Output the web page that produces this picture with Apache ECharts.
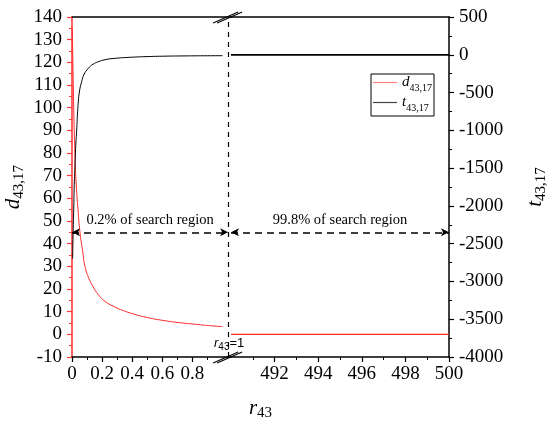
<!DOCTYPE html>
<html><head><meta charset="utf-8">
<script src="https://cdn.jsdelivr.net/npm/echarts@6/dist/echarts.min.js"></script>
<style>html,body{margin:0;padding:0;background:#fff}#c{width:550px;height:428px}</style>
</head><body><div id="c"></div>
<script>
// ---- data ----
const dLeftR = [0.002,0.01,0.02,0.03,0.04,0.053,0.07,0.086,0.11,0.14,0.175,0.22,0.286,0.34,0.397,0.5,0.618,0.72,0.839,0.92,1.0];
const dLeftV = [135,105,78,64,55,45,37,30,25,21,17.5,14.5,12,10.5,9.2,7.4,6,5.1,4.3,3.8,3.4];
const tLeftR = [0.004,0.008,0.012,0.015,0.02,0.025,0.031,0.036,0.042,0.05,0.064,0.08,0.108,0.14,0.175,0.22,0.286,0.38,0.485,0.6,0.75,0.9,1.0];
const tLeftV = [-2700,-2300,-2000,-1720,-1450,-1200,-1000,-800,-620,-480,-356,-260,-180,-125,-92,-65,-47,-34,-25,-19,-15,-13,-12];
const dRightR = [490,500];
const dRightV = [0,0];
const tRightR = [490,500];
const tRightV = [0,0];
const xTicksLeft = [0,0.2,0.4,0.6,0.8];
const xMinorLeft = [0.1,0.3,0.5,0.7,0.9];
const xTicksRight = [492,494,496,498,500];
const xMinorRight = [491,493,495,497,499];
const leftRange = [0,1.056];
const rightRange = [490,500];
const dRange = [-10,140,10];
const tRange = [-4000,500,500];
const breakR = 1.037;
const arrowD = 45;
const textLeft = '0.2% of search region';
const textRight = '99.8% of search region';

const SERIF = "'Liberation Serif','Times New Roman',serif";
const SANS = "'Liberation Sans',Arial,sans-serif";
const RED = '#ff2a2a';
const zip = (a,b)=>a.map((v,i)=>[v,b[i]]);

const subRich = (big, small) => ({
  i:{fontFamily:SERIF,fontStyle:'italic',fontSize:big,color:'#000',lineHeight:big+6,verticalAlign:'middle'},
  s:{fontFamily:SERIF,fontSize:small,color:'#000',lineHeight:small,verticalAlign:'bottom'}
});

const chart = echarts.init(document.getElementById('c'), null, {renderer:'canvas'});
const plain = v=>String(v);
const labelBase = {fontFamily:SERIF,fontSize:19,color:'#000',formatter:plain};
const blackLine = {lineStyle:{color:'#000',width:1.5}};

const option = {
  animation:false,
  backgroundColor:'#fff',
  grid:[
    {left:72, top:17, width:159, height:340},
    {left:231, top:17, width:229, height:340}
  ],
  xAxis:[
    {gridIndex:0,type:'value',position:'bottom',min:leftRange[0],max:leftRange[1],
     axisLine:{onZero:false,...blackLine},
     axisTick:{customValues:xTicksLeft,length:5,lineStyle:{color:'#000',width:1.2}},
     axisLabel:{customValues:xTicksLeft,margin:8,...labelBase},
     splitLine:{show:false}},
    {gridIndex:0,type:'value',position:'bottom',min:leftRange[0],max:leftRange[1],
     axisLine:{show:false,onZero:false},
     axisTick:{customValues:xMinorLeft,length:3,lineStyle:{color:'#000',width:1}},
     axisLabel:{show:false},splitLine:{show:false}},
    {gridIndex:0,type:'value',position:'top',min:leftRange[0],max:leftRange[1],
     axisLine:{onZero:false,...blackLine},axisTick:{show:false},axisLabel:{show:false},splitLine:{show:false}},
    {gridIndex:1,type:'value',position:'bottom',min:rightRange[0],max:rightRange[1],
     axisLine:{onZero:false,...blackLine},
     axisTick:{customValues:xTicksRight,length:5,lineStyle:{color:'#000',width:1.2}},
     axisLabel:{customValues:xTicksRight,margin:8,...labelBase},
     splitLine:{show:false}},
    {gridIndex:1,type:'value',position:'bottom',min:rightRange[0],max:rightRange[1],
     axisLine:{show:false,onZero:false},
     axisTick:{customValues:xMinorRight,length:3,lineStyle:{color:'#000',width:1}},
     axisLabel:{show:false},splitLine:{show:false}},
    {gridIndex:1,type:'value',position:'top',min:rightRange[0],max:rightRange[1],
     axisLine:{onZero:false,...blackLine},axisTick:{show:false},axisLabel:{show:false},splitLine:{show:false}}
  ],
  yAxis:[
    {gridIndex:0,type:'value',position:'left',min:dRange[0],max:dRange[1],interval:dRange[2],
     axisLine:{show:true,onZero:false,lineStyle:{color:'#ff3b3b',width:1.6}},
     axisTick:{show:true,length:5,lineStyle:{color:'#ff3b3b',width:1.2}},
     minorTick:{show:true,splitNumber:2,length:3,lineStyle:{color:'#ff3b3b',width:1}},
     axisLabel:{margin:10,...labelBase},
     splitLine:{show:false},minorSplitLine:{show:false},
     name:'{i|d}{s|43,17}',nameLocation:'middle',nameRotate:90,nameGap:45,
     nameTextStyle:{rich:subRich(21,15)}},
    {gridIndex:0,type:'value',position:'right',min:tRange[0],max:tRange[1],show:false,splitLine:{show:false}},
    {gridIndex:1,type:'value',position:'left',min:dRange[0],max:dRange[1],show:false,splitLine:{show:false}},
    {gridIndex:1,type:'value',position:'right',min:tRange[0],max:tRange[1],interval:tRange[2],
     axisLine:{show:true,onZero:false,lineStyle:{color:'#000',width:1.5}},
     axisTick:{show:true,length:5,lineStyle:{color:'#000',width:1.2}},
     minorTick:{show:true,splitNumber:2,length:3,lineStyle:{color:'#000',width:1}},
     axisLabel:{margin:10,...labelBase},
     splitLine:{show:false},minorSplitLine:{show:false},
     name:'{i|t}{s|43,17}',nameLocation:'middle',nameRotate:90,nameGap:73,
     nameTextStyle:{rich:subRich(21,15)}}
  ],
  legend:{
    left:371, top:74, orient:'vertical',
    data:['d43,17','t43,17'],
    icon:'rect', itemWidth:24, itemHeight:1.2, itemGap:2,
    borderColor:'#000', borderWidth:1, padding:[1,2,3,2],
    formatter:n=>'{i|'+n[0]+'}{s|'+n.slice(1)+'}',
    textStyle:{rich:{
      i:{fontFamily:SERIF,fontStyle:'italic',fontSize:15,color:'#000',lineHeight:21,verticalAlign:'middle'},
      s:{fontFamily:SERIF,fontSize:10,color:'#000',lineHeight:10,verticalAlign:'bottom'}
    }}
  },
  series:[
    {name:'d43,17',type:'line',xAxisIndex:0,yAxisIndex:0,data:zip(dLeftR,dLeftV),smooth:true,
     showSymbol:false,lineStyle:{color:RED,width:1},itemStyle:{color:'#ff8080'},z:3,
     markLine:{silent:true,symbol:['arrow','arrow'],symbolSize:[6,8],animation:false,
       data:[
         [{coord:[0,arrowD],lineStyle:{color:'#000',width:1.5,type:[7,5]},
           label:{show:true,position:'insideMiddleTop',distance:5,formatter:textLeft,fontFamily:SERIF,fontSize:14.5,color:'#000'}},
          {coord:[breakR,arrowD]}],
         [{coord:[breakR,dRange[0]],symbol:'none',lineStyle:{color:'#000',width:1.2,type:[5,5]},label:{show:false}},
          {coord:[breakR,dRange[1]],symbol:'none'}]
       ]}},
    {name:'t43,17',type:'line',xAxisIndex:0,yAxisIndex:1,data:zip(tLeftR,tLeftV),smooth:true,
     showSymbol:false,lineStyle:{color:'#000',width:1},itemStyle:{color:'#444'},z:3},
    {name:'d43,17',type:'line',xAxisIndex:3,yAxisIndex:2,data:zip(dRightR,dRightV),
     showSymbol:false,lineStyle:{color:RED,width:1.2},itemStyle:{color:'#ff8080'},z:3,
     markLine:{silent:true,symbol:['arrow','arrow'],symbolSize:[6,8],animation:false,
       data:[
         [{coord:[rightRange[0],arrowD],lineStyle:{color:'#000',width:1.5,type:[7,5]},
           label:{show:true,position:'insideMiddleTop',distance:5,formatter:textRight,fontFamily:SERIF,fontSize:14.5,color:'#000'}},
          {coord:[rightRange[1],arrowD]}]
       ]}},
    {name:'t43,17',type:'line',xAxisIndex:3,yAxisIndex:3,data:zip(tRightR,tRightV),
     showSymbol:false,lineStyle:{color:'#000',width:1.8},itemStyle:{color:'#444'},z:3}
  ]
};
chart.setOption(option);

// decorations positioned from the axes
const pTop = chart.convertToPixel({xAxisIndex:0,yAxisIndex:0},[breakR,dRange[1]]);
const pBot = chart.convertToPixel({xAxisIndex:0,yAxisIndex:0},[breakR,dRange[0]]);
const pL = chart.convertToPixel({xAxisIndex:0,yAxisIndex:0},[leftRange[0],dRange[0]]);
const pR = chart.convertToPixel({xAxisIndex:3,yAxisIndex:2},[rightRange[1],dRange[0]]);
function breakMark(p){
  const s={stroke:'#000',lineWidth:1.1};
  return [
    {type:'line',shape:{x1:p[0]-15,y1:p[1]+6,x2:p[0]+10,y2:p[1]-5},style:s,z:100},
    {type:'line',shape:{x1:p[0]-11,y1:p[1]+6,x2:p[0]+14,y2:p[1]-5},style:s,z:100}
  ];
}
chart.setOption({graphic:[
  ...breakMark(pTop),...breakMark(pBot),
  {type:'text',x:pBot[0]+1,y:pBot[1]-14,z:100,style:{
    text:'{i|r}{s|43}{n|=1}',align:'center',verticalAlign:'middle',
    rich:{
      i:{fontFamily:SANS,fontStyle:'italic',fontSize:13,fill:'#000',lineHeight:18,verticalAlign:'middle'},
      s:{fontFamily:SANS,fontSize:10,fill:'#000',lineHeight:10,verticalAlign:'bottom'},
      n:{fontFamily:SANS,fontSize:13,fill:'#000',lineHeight:18,verticalAlign:'middle'}
    }}},
  {type:'text',x:(pL[0]+pR[0])/2,y:pL[1]+51,z:100,style:{
    text:'{i|r}{s|43}',align:'center',verticalAlign:'middle',
    rich:{
      i:{fontFamily:SERIF,fontStyle:'italic',fontSize:21,fill:'#000',lineHeight:26,verticalAlign:'middle'},
      s:{fontFamily:SERIF,fontSize:15,fill:'#000',lineHeight:15,verticalAlign:'bottom'}
    }}}
]});
</script></body></html>
